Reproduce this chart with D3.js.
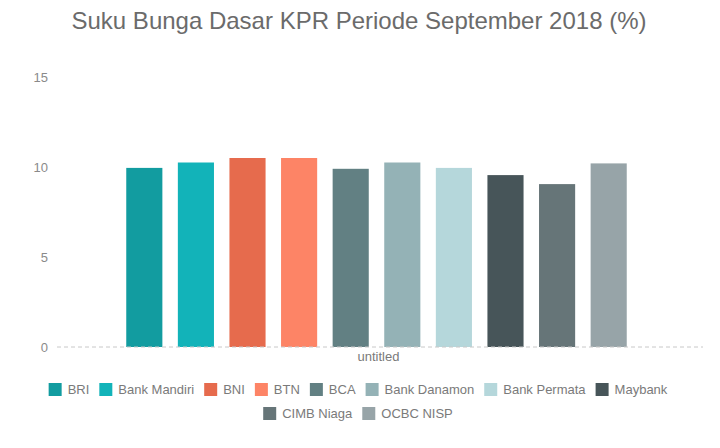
<!DOCTYPE html>
<html>
<head>
<meta charset="utf-8">
<script src="https://cdn.jsdelivr.net/npm/d3@7"></script>
<style>
  html, body { margin: 0; padding: 0; background: #fff; }
  text { font-family: "Liberation Sans", Arial, sans-serif; }
</style>
</head>
<body>
<svg id="chart" width="720" height="448"></svg>
<script>
const title = "Suku Bunga Dasar KPR Periode September 2018 (%)";
const groups = ["untitled"];
const banks = ["BRI", "Bank Mandiri", "BNI", "BTN", "BCA", "Bank Danamon", "Bank Permata", "Maybank", "CIMB Niaga", "OCBC NISP"];
const rates = [9.95, 10.25, 10.5, 10.5, 9.9, 10.25, 9.95, 9.55, 9.05, 10.2];
const colors = ["#129ca0", "#12b3b9", "#e66b4d", "#fd8466", "#628083", "#94b2b6", "#b5d7db", "#475559", "#667578", "#97a4a8"];
const yTicks = [0, 5, 10, 15];

const svg = d3.select("#chart");
const W = 720, H = 448;
const m = { left: 57, right: 17, top: 77, bottom: 101 };

svg.append("text")
  .attr("x", 359).attr("y", 29)
  .attr("text-anchor", "middle")
  .attr("font-size", 24)
  .attr("fill", "#6b6b6b")
  .text(title);

const y = d3.scaleLinear().domain([0, 15]).range([H - m.bottom, m.top]);
const x0 = d3.scaleBand().domain(groups).range([m.left, W - m.right - 7]).paddingInner(0).paddingOuter(0.1006);
const x1 = d3.scaleBand().domain(banks).range([0, x0.bandwidth()]).paddingInner(0.3).paddingOuter(0.305);

// y axis labels (no line)
const yAxis = d3.axisLeft(y).tickValues(yTicks).tickSize(0).tickPadding(0);
const ya = svg.append("g").attr("transform", `translate(${m.left - 9},0)`).call(yAxis);
ya.select(".domain").remove();
ya.selectAll("text").attr("font-size", 13).attr("fill", "#8a8a8a").attr("font-family", "Liberation Sans, Arial, sans-serif");

// bars
const g = svg.append("g");
groups.forEach(grp => {
  g.selectAll("rect.bar")
    .data(banks.map((b, i) => ({ bank: b, v: rates[i], c: colors[i] })))
    .enter().append("rect")
    .attr("class", "bar")
    .attr("x", d => x0(grp) + x1(d.bank))
    .attr("y", d => y(d.v))
    .attr("width", x1.bandwidth())
    .attr("height", d => y(0) - y(d.v))
    .attr("fill", d => d.c);
});

// baseline dashed
svg.append("line")
  .attr("x1", m.left).attr("x2", W - m.right)
  .attr("y1", y(0)).attr("y2", y(0))
  .attr("stroke", "#c8c8c8").attr("stroke-width", 1)
  .attr("stroke-dasharray", "4,3");

// x axis label
const xAxis = d3.axisBottom(x0).tickSize(0).tickPadding(0);
const xa = svg.append("g").attr("transform", `translate(2,${y(0) + 5})`).call(xAxis);
xa.select(".domain").remove();
xa.selectAll("text").attr("font-size", 13).attr("fill", "#7a7a7a").attr("dy", "0.71em").attr("font-family", "Liberation Sans, Arial, sans-serif");

// legend
const legend = svg.append("g");
const sq = 13, gapText = 6, gapItem = 10, maxW = 640;
const items = banks.map((b, i) => {
  const it = legend.append("g");
  it.append("rect").attr("width", sq).attr("height", sq).attr("fill", colors[i]);
  const t = it.append("text").attr("x", sq + gapText).attr("y", sq / 2).attr("dy", "0.35em")
    .attr("font-size", 13).attr("fill", "#7a7a7a").text(b);
  const w = sq + gapText + t.node().getComputedTextLength();
  return { g: it, w };
});
const rows = [[]];
let cur = 0;
items.forEach(it => {
  const add = (rows[rows.length - 1].length ? gapItem : 0) + it.w;
  if (cur + add > maxW && rows[rows.length - 1].length) { rows.push([it]); cur = it.w; }
  else { rows[rows.length - 1].push(it); cur += add; }
});
rows.forEach((row, r) => {
  const tw = d3.sum(row, d => d.w) + gapItem * (row.length - 1);
  let xx = 358 - tw / 2;
  row.forEach(it => {
    it.g.attr("transform", `translate(${xx},${383 + r * 24})`);
    xx += it.w + gapItem;
  });
});
</script>
</body>
</html>
